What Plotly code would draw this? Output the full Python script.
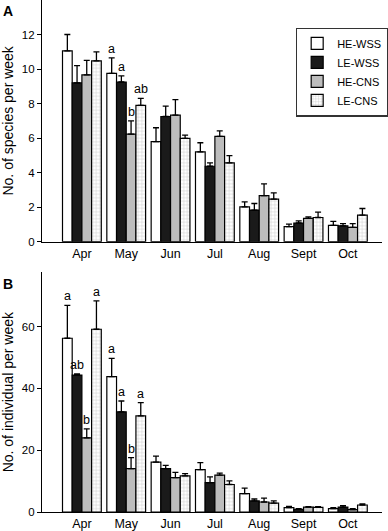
import plotly.graph_objects as go

months = ["Apr", "May", "Jun", "Jul", "Aug", "Sept", "Oct"]
series = ["HE-WSS", "LE-WSS", "HE-CNS", "LE-CNS"]

# Panel A: No. of species per week (mean, upper error)
species_mean = {
    "HE-WSS": [11.05, 9.75, 5.8, 5.2, 2.02, 0.87, 0.94],
    "LE-WSS": [9.2, 9.25, 7.25, 4.37, 1.83, 1.08, 0.92],
    "HE-CNS": [9.66, 6.23, 7.33, 6.1, 2.67, 1.35, 0.83],
    "LE-CNS": [10.47, 7.9, 5.98, 4.56, 2.46, 1.40, 1.54],
}
species_err = {
    "HE-WSS": [0.95, 0.9, 0.8, 0.53, 0.29, 0.15, 0.23],
    "LE-WSS": [1.0, 0.35, 0.6, 0.19, 0.38, 0.13, 0.12],
    "HE-CNS": [0.84, 0.77, 0.9, 0.32, 0.68, 0.09, 0.21],
    "LE-CNS": [0.53, 0.4, 0.19, 0.42, 0.37, 0.31, 0.38],
}
# Panel B: No. of individual per week
indiv_mean = {
    "HE-WSS": [56.2, 43.8, 16.1, 13.7, 5.95, 1.4, 1.08],
    "LE-WSS": [44.3, 32.4, 14.05, 9.5, 3.57, 0.86, 1.6],
    "HE-CNS": [24.0, 14.05, 11.1, 11.9, 3.24, 1.6, 0.76],
    "LE-CNS": [59.1, 31.1, 11.7, 8.9, 2.9, 1.5, 2.27],
}
indiv_err = {
    "HE-WSS": [10.6, 5.9, 1.95, 2.3, 1.75, 0.44, 0.32],
    "LE-WSS": [0.4, 3.5, 1.05, 1.85, 0.63, 0.24, 0.45],
    "HE-CNS": [2.9, 3.55, 1.7, 0.7, 1.26, 0.13, 0.32],
    "LE-CNS": [9.2, 4.3, 0.7, 1.15, 0.67, 0.23, 0.33],
}
# significance letters: (month, series, letter)
letters_A = [("May", "HE-WSS", "a"), ("May", "LE-WSS", "a"),
             ("May", "HE-CNS", "b"), ("May", "LE-CNS", "ab")]
letters_B = [("Apr", "HE-WSS", "a"), ("Apr", "LE-WSS", "ab"),
             ("Apr", "HE-CNS", "b"), ("Apr", "LE-CNS", "a"),
             ("May", "HE-WSS", "a"), ("May", "LE-WSS", "a"),
             ("May", "HE-CNS", "b"), ("May", "LE-CNS", "a")]

styles = {
    "HE-WSS": dict(color="white"),
    "LE-WSS": dict(color="#1a1a1a"),
    "HE-CNS": dict(color="#bdbdbd"),
    "LE-CNS": dict(color="white", pattern=dict(shape="+", size=3.5, fgcolor="#8c8c8c",
                                               bgcolor="white", solidity=0.25)),
}

FONT = "Liberation Sans, Arial, sans-serif"
xs = list(range(len(months)))
bargap = 0.125
w = (1 - bargap) / len(series)

fig = go.Figure()
for panel, (means, errs, xa, ya) in enumerate([(species_mean, species_err, "x", "y"),
                                               (indiv_mean, indiv_err, "x2", "y2")]):
    for s in series:
        st = styles[s]
        marker = dict(color=st["color"], line=dict(color="black", width=1.2))
        if "pattern" in st:
            marker["pattern"] = st["pattern"]
        fig.add_trace(go.Bar(
            x=xs, y=means[s], name=s, xaxis=xa, yaxis=ya,
            marker=marker, showlegend=(panel == 0), legendgroup=s,
            error_y=dict(type="data", array=errs[s], arrayminus=[0] * len(xs),
                         symmetric=False, color="black", thickness=1.3, width=3),
        ))

annotations = []
for letters, means, errs, xa, ya in [(letters_A, species_mean, species_err, "x", "y"),
                                     (letters_B, indiv_mean, indiv_err, "x2", "y2")]:
    for m, s, txt in letters:
        i = months.index(m)
        k = series.index(s)
        annotations.append(dict(
            x=i + (k - 1.5) * w, y=means[s][i] + errs[s][i], xref=xa, yref=ya,
            text=txt, showarrow=False, yanchor="bottom", yshift=0,
            font=dict(family=FONT, size=12.5, color="black")))

annotations += [
    dict(x=0.0, y=1.0, xref="paper", yref="paper", text="<b>A</b>", showarrow=False,
         xanchor="left", yanchor="top", font=dict(family=FONT, size=14, color="black"),
         xshift=-41, yshift=-1),
    dict(x=0.0, y=0.468, xref="paper", yref="paper", text="<b>B</b>", showarrow=False,
         xanchor="left", yanchor="top", font=dict(family=FONT, size=14, color="black"),
         xshift=-41, yshift=-2),
]

xcommon = dict(tickvals=xs, ticktext=months, range=[-0.9, 6.77], showline=True,
               linecolor="black", linewidth=1.2, ticks="", showgrid=False, zeroline=False,
               tickfont=dict(family=FONT, size=12.5, color="black"))
ycommon = dict(showline=True, linecolor="black", linewidth=1.2, ticks="outside",
               ticklen=4, tickwidth=1, tickcolor="black", showgrid=False, zeroline=False,
               tickfont=dict(family=FONT, size=11.5, color="black"))

fig.update_layout(
    width=388, height=531,
    margin=dict(l=42, r=2, t=0, b=19),
    paper_bgcolor="white", plot_bgcolor="white",
    barmode="group", bargap=bargap, bargroupgap=0,
    font=dict(family=FONT, color="black"),
    xaxis=dict(domain=[0, 1], anchor="y", **xcommon),
    yaxis=dict(domain=[0.528, 1.0], anchor="x", range=[0, 14], tickvals=[0, 2, 4, 6, 8, 10, 12],
               title=dict(text="No. of species per week", standoff=5,
                          font=dict(family=FONT, size=14, color="black")), **ycommon),
    xaxis2=dict(domain=[0, 1], anchor="y2", **xcommon),
    yaxis2=dict(domain=[0.0, 0.468], anchor="x2", range=[0, 77.5], tickvals=[0, 20, 40, 60],
                title=dict(text="No. of individual per week", standoff=5,
                           font=dict(family=FONT, size=14, color="black")), **ycommon),
    legend=dict(x=0.747, y=0.946, xanchor="left", yanchor="top", bgcolor="white",
                bordercolor="#333333", borderwidth=1.2, tracegroupgap=0,
                font=dict(family=FONT, size=11, color="black"), itemwidth=30),
    annotations=annotations,
)

fig.write_html("out.html", config={"displayModeBar": False},
               post_script="document.body.style.margin='0';document.body.style.padding='0';")
